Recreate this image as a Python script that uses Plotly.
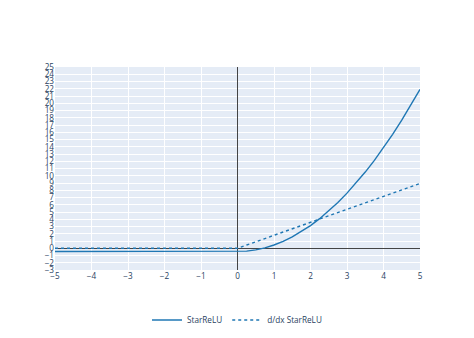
import plotly.graph_objects as go

x_vals = [-5, -4.5, -4, -3.5, -3, -2.5, -2, -1.5, -1, -0.5, 0,
          0.25, 0.5, 0.75, 1, 1.25, 1.5, 1.75, 2, 2.25, 2.5, 2.75,
          3, 3.25, 3.5, 3.75, 4, 4.25, 4.5, 4.75, 5]
starrelu = [-0.447] * 11 + [-0.391, -0.224, 0.056, 0.447, 0.950, 1.565, 2.292, 3.130,
                            4.081, 5.143, 6.317, 7.603, 9.000, 10.509, 12.130, 13.863,
                            15.708, 17.664, 19.733, 21.913]
d_starrelu = [0.0] * 11 + [0.447, 0.894, 1.342, 1.789, 2.236, 2.683, 3.130, 3.578,
                           4.025, 4.472, 4.919, 5.366, 5.814, 6.261, 6.708, 7.155,
                           7.602, 8.050, 8.497, 8.944]

color = "#1f77b4"
fs = 8.2
fig = go.Figure()
fig.add_trace(go.Scatter(x=x_vals, y=starrelu, mode="lines", name="StarReLU",
                         line=dict(color=color, width=1.4)))
fig.add_trace(go.Scatter(x=x_vals, y=d_starrelu, mode="lines", name="d/dx StarReLU",
                         line=dict(color=color, width=1.4, dash="dot")))

fig.update_layout(
    width=474, height=338,
    margin=dict(l=55, r=54, t=67, b=68, autoexpand=False),
    template="plotly",
    font=dict(size=fs),
    legend=dict(orientation="h", x=0.5, xanchor="center", xref="container",
                y=18 / 338, yanchor="middle", yref="container",
                font=dict(size=fs)),
    xaxis=dict(range=[-5, 5], dtick=1, zeroline=True, zerolinecolor="#444", zerolinewidth=1,
               gridwidth=0.8, tickfont=dict(size=fs)),
    yaxis=dict(range=[-3, 25], dtick=1, zeroline=True, zerolinecolor="#444", zerolinewidth=1,
               gridwidth=0.8, tickfont=dict(size=fs)),
)
fig.write_html("out.html")
